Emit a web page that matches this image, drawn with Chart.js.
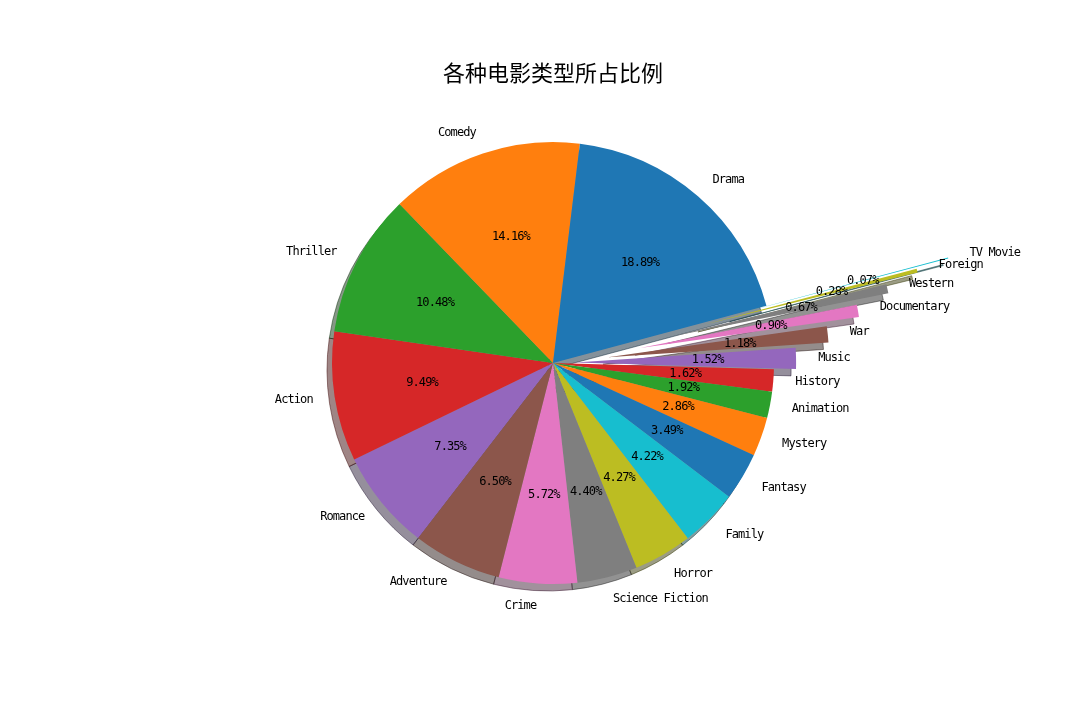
<!DOCTYPE html>
<html>
<head>
<meta charset="utf-8">
<script src="https://cdn.jsdelivr.net/npm/chart.js@4.4.0/dist/chart.umd.min.js"></script>
<style>
  html, body { margin: 0; padding: 0; background: #fff; }
  #wrap { width: 1080px; height: 720px; }
</style>
</head>
<body>
<div id="wrap"><canvas id="pieChart"></canvas></div>
<script>
var genres = ["Drama", "Comedy", "Thriller", "Action", "Romance", "Adventure", "Crime",
  "Science Fiction", "Horror", "Family", "Fantasy", "Mystery", "Animation", "History",
  "Music", "War", "Documentary", "Western", "Foreign", "TV Movie"];
var shares = [18.89, 14.16, 10.48, 9.49, 7.35, 6.50, 5.72, 4.40, 4.27, 4.22,
  3.49, 2.86, 1.92, 1.62, 1.52, 1.18, 0.90, 0.67, 0.28, 0.07];
var explode = [0, 0, 0, 0, 0, 0, 0, 0, 0, 0, 0, 0, 0, 0, 0.1, 0.25, 0.4, 0.55, 0.7, 0.85];

var palette = ["#1f77b4", "#ff7f0e", "#2ca02c", "#d62728", "#9467bd",
  "#8c564b", "#e377c2", "#7f7f7f", "#bcbd22", "#17becf"];

var RADIUS = 221;
var SHADOW_DX = -5, SHADOW_DY = 7;
var labelFont = '12px "DejaVu Sans Mono"';

// matplotlib goes counter-clockwise, Chart.js clockwise: feed the slices reversed
var labelsRev = genres.slice().reverse();
var valuesRev = shares.slice().reverse();
var explodeRev = explode.slice().reverse();
var colorsRev = genres.map(function(g, i) { return palette[i % 10]; }).reverse();

function shade(hex) {
  var r = parseInt(hex.substr(1, 2), 16), g = parseInt(hex.substr(3, 2), 16), b = parseInt(hex.substr(5, 2), 16);
  return 'rgba(' + Math.round(r * 0.3) + ',' + Math.round(g * 0.3) + ',' + Math.round(b * 0.3) + ',0.5)';
}

// pull slices out along their middle angle, like matplotlib's explode
var explodePlugin = {
  id: 'explode',
  afterDatasetUpdate: function(chart, args) {
    var arcs = chart.getDatasetMeta(args.index).data;
    arcs.forEach(function(arc, i) {
      var d = explodeRev[i] * RADIUS;
      if (!d) return;
      var mid = (arc.startAngle + arc.endAngle) / 2;
      arc.x += Math.cos(mid) * d;
      arc.y += Math.sin(mid) * d;
    });
  }
};

var shadowPlugin = {
  id: 'pieShadow',
  beforeDatasetsDraw: function(chart) {
    var ctx = chart.ctx;
    var arcs = chart.getDatasetMeta(0).data;
    ctx.save();
    ctx.translate(SHADOW_DX, SHADOW_DY);
    arcs.forEach(function(arc, i) {
      var col = shade(colorsRev[i]);
      var fake = Object.create(arc);
      fake.options = Object.assign({}, arc.options, {
        backgroundColor: col, borderColor: col, borderWidth: 1
      });
      fake.draw(ctx);
    });
    ctx.restore();
  }
};

var labelPlugin = {
  id: 'pieLabels',
  afterDatasetsDraw: function(chart) {
    var ctx = chart.ctx;
    var arcs = chart.getDatasetMeta(0).data;
    ctx.save();
    ctx.font = labelFont;
    ctx.letterSpacing = '-0.9px';
    ctx.fillStyle = '#000';
    ctx.textBaseline = 'middle';
    arcs.forEach(function(arc, i) {
      var mid = (arc.startAngle + arc.endAngle) / 2;
      var cx = Math.cos(mid), cy = Math.sin(mid);
      ctx.textAlign = cx > 0 ? 'left' : 'right';
      ctx.fillText(labelsRev[i], arc.x + cx * 1.1 * RADIUS, arc.y + cy * 1.1 * RADIUS);
      ctx.textAlign = 'center';
      ctx.fillText(valuesRev[i].toFixed(2) + '%', arc.x + cx * 0.6 * RADIUS, arc.y + cy * 0.6 * RADIUS);
    });
    ctx.restore();
  }
};

var ctx = document.getElementById('pieChart').getContext('2d');

var pieChart = new Chart(ctx, {
  type: 'pie',
  data: {
    labels: labelsRev,
    datasets: [{
      data: valuesRev,
      backgroundColor: colorsRev,
      borderWidth: 0,
      hoverOffset: 0,
      clip: false
    }]
  },
  options: {
    responsive: true,
    maintainAspectRatio: false,
    animation: false,
    radius: RADIUS,
    rotation: 75,
    layout: { padding: { left: 26, right: 0, top: 0, bottom: 79.4 } },
    plugins: {
      legend: { display: false },
      tooltip: { enabled: false },
      title: {
        display: true,
        text: '各种电影类型所占比例',
        color: '#000',
        font: { family: '"Noto Sans CJK SC"', size: 22, weight: 'normal' },
        padding: { top: 59, bottom: 0 }
      }
    }
  },
  plugins: [explodePlugin, shadowPlugin, labelPlugin]
});
</script>
</body>
</html>
